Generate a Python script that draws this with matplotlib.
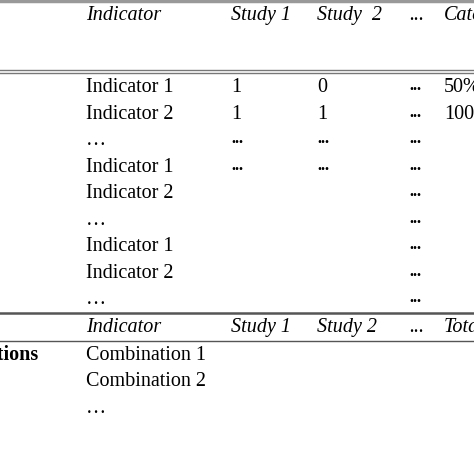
import matplotlib
matplotlib.use("Agg")
import matplotlib.pyplot as plt

# Table content
header_top = ["Indicator", "Study 1", "Study  2", "...", "Categ"]
indicator_col = ["Indicator 1", "Indicator 2", "\u2026", "Indicator 1", "Indicator 2",
                 "\u2026", "Indicator 1", "Indicator 2", "\u2026"]
study1_col = ["1", "1", "\u2022\u2022\u2022", "\u2022\u2022\u2022", "", "", "", "", ""]
study2_col = ["0", "1", "\u2022\u2022\u2022", "\u2022\u2022\u2022", "", "", "", "", ""]
dots_col = ["\u2022\u2022\u2022"] * 9
category_col = ["50%", "100%", "", "", "", "", "", "", ""]
header_bottom = ["Indicator", "Study 1", "Study 2", "...", "Total"]
combinations = ["Combination 1", "Combination 2", "\u2026"]
section_label = "Combinations"

col_x = [86, 231, 317, 409, 444]
W = H = 474

fig = plt.figure(figsize=(4.74, 4.74), dpi=100)
ax = fig.add_axes([0, 0, 1, 1])
ax.set_xlim(0, W)
ax.set_ylim(H, 0)
ax.axis("off")

fs = 14.5
serif = ["Liberation Serif", "DejaVu Serif"]

def put(x, y, s, **kw):
    # y is the visual middle of the line; place on a shared baseline
    ax.text(x, y + 5, s, fontsize=fs, family=serif, va="baseline", ha="left", **kw)

# rules
ax.plot([0, W], [1, 1], color="#999999", lw=2.5)
ax.plot([0, W], [69.5, 69.5], color="#777777", lw=1.0)
ax.plot([0, W], [72.5, 72.5], color="#777777", lw=1.0)
ax.plot([0, W], [313, 313], color="#555555", lw=1.8)
ax.plot([0, W], [341, 341], color="#555555", lw=1.0)

for x, s in zip(col_x, header_top):
    put(x, 15, s, style="italic")

row_y = [87 + 26.5 * i for i in range(len(indicator_col))]
for i, y in enumerate(row_y):
    put(col_x[0], y, indicator_col[i])
    for x, s in zip(col_x[1:], [study1_col[i], study2_col[i], dots_col[i], category_col[i]]):
        if s.startswith("\u2022"):
            ax.text(x, y + 3, s, fontsize=8.5, family=serif, va="center", ha="left")
        else:
            put(x, y, s)

for x, s in zip(col_x, header_bottom):
    put(x, 327, s, style="italic")

ax.text(38, 360, section_label, fontsize=fs, family=serif, va="baseline", ha="right", weight="bold")
for i, s in enumerate(combinations):
    put(col_x[0], 355 + 26.5 * i, s)

fig.savefig("out.png", dpi=100)
